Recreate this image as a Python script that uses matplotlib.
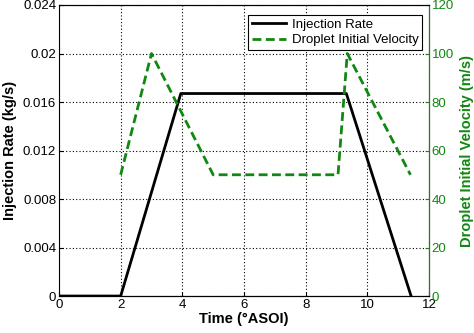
import numpy as np
import matplotlib.pyplot as plt
from matplotlib.lines import Line2D

plt.rcParams['font.family'] = ['Liberation Sans', 'DejaVu Sans']

# injection rate profile (kg/s)
inj_t = [0, 2.0, 3.95, 9.32, 11.42]
inj_rate = [0, 0, 0.0167, 0.0167, 0]

# droplet initial velocity (m/s)
vel_t = [2.0, 3.0, 5.0, 9.05, 9.35, 11.4]
vel = [50, 100, 50, 50, 100, 50]

green = '#118811'

fig = plt.figure(figsize=(4.74, 3.33), dpi=100)
ax = fig.add_axes([0.1245, 0.111, 0.7805, 0.874])
ax2 = ax.twinx()

ax.plot(inj_t, inj_rate, color='black', lw=2)
ax2.plot(vel_t, vel, color=green, lw=2, ls=(0, (3.2, 1.6)))

ax.set_xlim(0, 12)
ax.set_ylim(0, 0.024)
ax2.set_ylim(0, 120)
ax.set_xticks(np.arange(0, 13, 2))
ax.set_yticks(np.arange(0, 0.0241, 0.004))
ax.set_yticklabels(['0', '0.004', '0.008', '0.012', '0.016', '0.02', '0.024'])
ax2.set_yticks(np.arange(0, 121, 20))

ax.grid(True, color='black', ls=(0, (1, 2)), lw=0.8)
ax.tick_params(direction='in', labelsize=9.5, length=3, pad=2)
ax2.tick_params(direction='in', labelsize=9.5, length=3, colors=green, pad=2)
ax2.spines['right'].set_color(green)
ax2.spines['left'].set_visible(False)

ax.set_xlabel('Time (°ASOI)', fontweight='bold', fontsize=10.5, labelpad=1)
ax.set_ylabel('Injection Rate (kg/s)', fontweight='bold', fontsize=10.5, labelpad=4)
ax2.set_ylabel('Droplet Initial Velocity (m/s)', fontweight='bold', fontsize=10.5,
               color=green, labelpad=4)

handles = [Line2D([], [], color='black', lw=2),
           Line2D([], [], color=green, lw=2, ls=(0, (3.2, 1.6)))]
leg = ax2.legend(handles, ['Injection Rate', 'Droplet Initial Velocity'],
                 loc='upper right', bbox_to_anchor=(1.0, 0.99), fontsize=9.5,
                 fancybox=False, edgecolor='black', framealpha=1,
                 handlelength=2.6, borderpad=0.3, labelspacing=0.25, handletextpad=0.4)
leg.get_frame().set_linewidth(0.8)

fig.savefig('out.png', dpi=100)
